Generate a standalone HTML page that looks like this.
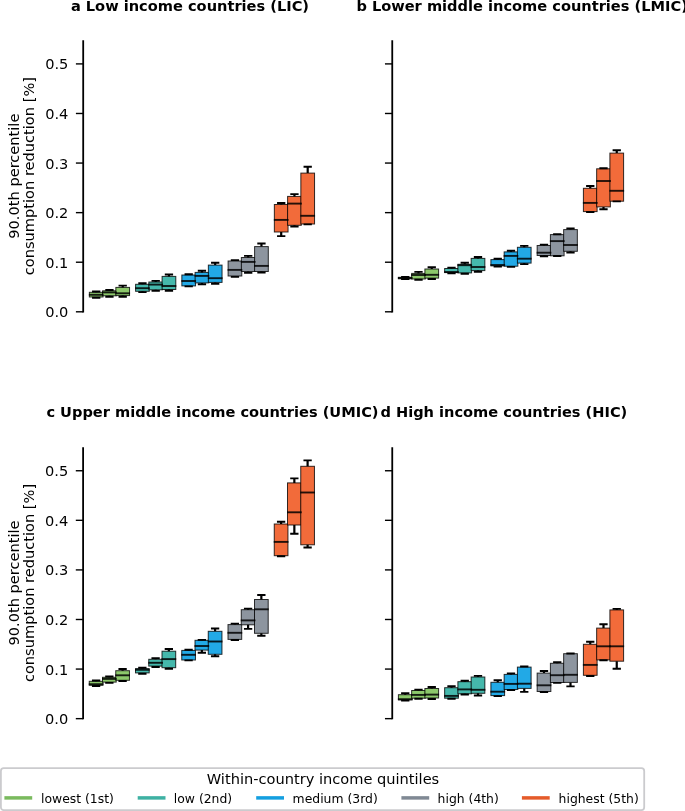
<!DOCTYPE html>
<html lang="en"><head><meta charset="utf-8"><title>Consumption reduction by income quintile</title>
<style>html,body{margin:0;padding:0;background:#fff}body{width:685px;height:811px;overflow:hidden}svg{display:block}text{font-family:"DejaVu Sans", "Liberation Sans", sans-serif;font-size:14.6px;fill:#000}.t{font-weight:bold}.lg{font-size:12.4px}</style></head><body>
<svg width="685" height="811" viewBox="0 0 685 811">
<rect x="0" y="0" width="685" height="811" fill="#ffffff"/>
<g>
<text class="t" x="70.9" y="10.6">a Low income countries (LIC)</text>
<rect x="89.35" y="292.3" width="13.7" height="4.7" fill="#8cc86b" stroke="#000000" stroke-opacity="0.8" stroke-width="1.0"/>
<rect x="102.6" y="290.8" width="13.7" height="5" fill="#8cc86b" stroke="#000000" stroke-opacity="0.8" stroke-width="1.0"/>
<rect x="115.85" y="287.4" width="13.7" height="8.2" fill="#8cc86b" stroke="#000000" stroke-opacity="0.8" stroke-width="1.0"/>
<rect x="135.6" y="284.3" width="13.7" height="7" fill="#45b8ac" stroke="#000000" stroke-opacity="0.8" stroke-width="1.0"/>
<rect x="148.85" y="282" width="13.7" height="7.8" fill="#45b8ac" stroke="#000000" stroke-opacity="0.8" stroke-width="1.0"/>
<rect x="162.1" y="276.4" width="13.7" height="13.1" fill="#45b8ac" stroke="#000000" stroke-opacity="0.8" stroke-width="1.0"/>
<rect x="181.85" y="275" width="13.7" height="10.9" fill="#22a9e6" stroke="#000000" stroke-opacity="0.8" stroke-width="1.0"/>
<rect x="195.1" y="272.4" width="13.7" height="10.5" fill="#22a9e6" stroke="#000000" stroke-opacity="0.8" stroke-width="1.0"/>
<rect x="208.35" y="265.1" width="13.7" height="17.3" fill="#22a9e6" stroke="#000000" stroke-opacity="0.8" stroke-width="1.0"/>
<rect x="228.1" y="261" width="13.7" height="15" fill="#8d959f" stroke="#000000" stroke-opacity="0.8" stroke-width="1.0"/>
<rect x="241.35" y="257.5" width="13.7" height="14" fill="#8d959f" stroke="#000000" stroke-opacity="0.8" stroke-width="1.0"/>
<rect x="254.6" y="246.6" width="13.7" height="24.9" fill="#8d959f" stroke="#000000" stroke-opacity="0.8" stroke-width="1.0"/>
<rect x="274.35" y="204.5" width="13.7" height="27.5" fill="#f26b3a" stroke="#000000" stroke-opacity="0.8" stroke-width="1.0"/>
<rect x="287.6" y="196.4" width="13.7" height="28.9" fill="#f26b3a" stroke="#000000" stroke-opacity="0.8" stroke-width="1.0"/>
<rect x="300.85" y="173.1" width="13.7" height="50.9" fill="#f26b3a" stroke="#000000" stroke-opacity="0.8" stroke-width="1.0"/>
<path d="M96.2 291.5V292.3M96.2 297V297.7" stroke="#000" stroke-width="2.2" fill="none"/>
<path d="M92.05 291.5H100.35M92.05 297.7H100.35" stroke="#000" stroke-width="1.9" fill="none"/>
<path d="M88.85 294.8H103.55" stroke="#000" stroke-opacity="0.85" stroke-width="1.9" fill="none"/>
<path d="M109.45 290V290.8M109.45 295.8V296.8" stroke="#000" stroke-width="2.2" fill="none"/>
<path d="M105.3 290H113.6M105.3 296.8H113.6" stroke="#000" stroke-width="1.9" fill="none"/>
<path d="M102.1 292.4H116.8" stroke="#000" stroke-opacity="0.85" stroke-width="1.9" fill="none"/>
<path d="M122.7 285.6V287.4M122.7 295.6V296.8" stroke="#000" stroke-width="2.2" fill="none"/>
<path d="M118.55 285.6H126.85M118.55 296.8H126.85" stroke="#000" stroke-width="1.9" fill="none"/>
<path d="M115.35 293.3H130.05" stroke="#000" stroke-opacity="0.85" stroke-width="1.9" fill="none"/>
<path d="M142.45 283.2V284.3M142.45 291.3V292.1" stroke="#000" stroke-width="2.2" fill="none"/>
<path d="M138.3 283.2H146.6M138.3 292.1H146.6" stroke="#000" stroke-width="1.9" fill="none"/>
<path d="M135.1 288.2H149.8" stroke="#000" stroke-opacity="0.85" stroke-width="1.9" fill="none"/>
<path d="M155.7 280.9V282M155.7 289.8V290.9" stroke="#000" stroke-width="2.2" fill="none"/>
<path d="M151.55 280.9H159.85M151.55 290.9H159.85" stroke="#000" stroke-width="1.9" fill="none"/>
<path d="M148.35 284.6H163.05" stroke="#000" stroke-opacity="0.85" stroke-width="1.9" fill="none"/>
<path d="M168.95 274.5V276.4M168.95 289.5V290.7" stroke="#000" stroke-width="2.2" fill="none"/>
<path d="M164.8 274.5H173.1M164.8 290.7H173.1" stroke="#000" stroke-width="1.9" fill="none"/>
<path d="M161.6 286H176.3" stroke="#000" stroke-opacity="0.85" stroke-width="1.9" fill="none"/>
<path d="M188.7 274.3V275M188.7 285.9V286.4" stroke="#000" stroke-width="2.2" fill="none"/>
<path d="M184.55 274.3H192.85M184.55 286.4H192.85" stroke="#000" stroke-width="1.9" fill="none"/>
<path d="M181.35 281H196.05" stroke="#000" stroke-opacity="0.85" stroke-width="1.9" fill="none"/>
<path d="M201.95 270.8V272.4M201.95 282.9V284.3" stroke="#000" stroke-width="2.2" fill="none"/>
<path d="M197.8 270.8H206.1M197.8 284.3H206.1" stroke="#000" stroke-width="1.9" fill="none"/>
<path d="M194.6 275.9H209.3" stroke="#000" stroke-opacity="0.85" stroke-width="1.9" fill="none"/>
<path d="M215.2 262.8V265.1M215.2 282.4V283.8" stroke="#000" stroke-width="2.2" fill="none"/>
<path d="M211.05 262.8H219.35M211.05 283.8H219.35" stroke="#000" stroke-width="1.9" fill="none"/>
<path d="M207.85 278.2H222.55" stroke="#000" stroke-opacity="0.85" stroke-width="1.9" fill="none"/>
<path d="M234.95 260.1V261M234.95 276V276.9" stroke="#000" stroke-width="2.2" fill="none"/>
<path d="M230.8 260.1H239.1M230.8 276.9H239.1" stroke="#000" stroke-width="1.9" fill="none"/>
<path d="M227.6 269.9H242.3" stroke="#000" stroke-opacity="0.85" stroke-width="1.9" fill="none"/>
<path d="M248.2 255.9V257.5M248.2 271.5V272.9" stroke="#000" stroke-width="2.2" fill="none"/>
<path d="M244.05 255.9H252.35M244.05 272.9H252.35" stroke="#000" stroke-width="1.9" fill="none"/>
<path d="M240.85 261.9H255.55" stroke="#000" stroke-opacity="0.85" stroke-width="1.9" fill="none"/>
<path d="M261.45 243.5V246.6M261.45 271.5V272.5" stroke="#000" stroke-width="2.2" fill="none"/>
<path d="M257.3 243.5H265.6M257.3 272.5H265.6" stroke="#000" stroke-width="1.9" fill="none"/>
<path d="M254.1 265.9H268.8" stroke="#000" stroke-opacity="0.85" stroke-width="1.9" fill="none"/>
<path d="M281.2 203V204.5M281.2 232V236.1" stroke="#000" stroke-width="2.2" fill="none"/>
<path d="M277.05 203H285.35M277.05 236.1H285.35" stroke="#000" stroke-width="1.9" fill="none"/>
<path d="M273.85 219.9H288.55" stroke="#000" stroke-opacity="0.85" stroke-width="1.9" fill="none"/>
<path d="M294.45 194.1V196.4M294.45 225.3V226.5" stroke="#000" stroke-width="2.2" fill="none"/>
<path d="M290.3 194.1H298.6M290.3 226.5H298.6" stroke="#000" stroke-width="1.9" fill="none"/>
<path d="M287.1 203.6H301.8" stroke="#000" stroke-opacity="0.85" stroke-width="1.9" fill="none"/>
<path d="M307.7 166.8V173.1M307.7 224V224.4" stroke="#000" stroke-width="2.2" fill="none"/>
<path d="M303.55 166.8H311.85M303.55 224.4H311.85" stroke="#000" stroke-width="1.9" fill="none"/>
<path d="M300.35 215.8H315.05" stroke="#000" stroke-opacity="0.85" stroke-width="1.9" fill="none"/>
<path d="M83.2 40.3V312.5" stroke="#000" stroke-width="1.8" fill="none"/>
<path d="M75.9 311.8H83.2" stroke="#000" stroke-width="1.4" fill="none"/>
<text x="68.4" y="317.25" text-anchor="end">0.0</text>
<path d="M75.9 262.22H83.2" stroke="#000" stroke-width="1.4" fill="none"/>
<text x="68.4" y="267.67" text-anchor="end">0.1</text>
<path d="M75.9 212.64H83.2" stroke="#000" stroke-width="1.4" fill="none"/>
<text x="68.4" y="218.09" text-anchor="end">0.2</text>
<path d="M75.9 163.06H83.2" stroke="#000" stroke-width="1.4" fill="none"/>
<text x="68.4" y="168.51" text-anchor="end">0.3</text>
<path d="M75.9 113.48H83.2" stroke="#000" stroke-width="1.4" fill="none"/>
<text x="68.4" y="118.93" text-anchor="end">0.4</text>
<path d="M75.9 63.9H83.2" stroke="#000" stroke-width="1.4" fill="none"/>
<text x="68.4" y="69.35" text-anchor="end">0.5</text>
<text transform="translate(18.8 176.15) rotate(-90)" text-anchor="middle">90.0th percentile</text>
<text transform="translate(33.7 176.15) rotate(-90)" text-anchor="middle">consumption reduction [%]</text>
</g>
<g>
<text class="t" x="356.4" y="10.6">b Lower middle income countries (LMIC)</text>
<rect x="398.4" y="277.3" width="13.7" height="1.5" fill="#8cc86b" stroke="#000000" stroke-opacity="0.8" stroke-width="1.0"/>
<rect x="411.65" y="273.4" width="13.7" height="5.6" fill="#8cc86b" stroke="#000000" stroke-opacity="0.8" stroke-width="1.0"/>
<rect x="424.9" y="269" width="13.7" height="9.1" fill="#8cc86b" stroke="#000000" stroke-opacity="0.8" stroke-width="1.0"/>
<rect x="444.65" y="268.5" width="13.7" height="4.1" fill="#45b8ac" stroke="#000000" stroke-opacity="0.8" stroke-width="1.0"/>
<rect x="457.9" y="264.3" width="13.7" height="8.6" fill="#45b8ac" stroke="#000000" stroke-opacity="0.8" stroke-width="1.0"/>
<rect x="471.15" y="258.4" width="13.7" height="12.2" fill="#45b8ac" stroke="#000000" stroke-opacity="0.8" stroke-width="1.0"/>
<rect x="490.9" y="259.6" width="13.7" height="6.3" fill="#22a9e6" stroke="#000000" stroke-opacity="0.8" stroke-width="1.0"/>
<rect x="504.15" y="251.9" width="13.7" height="14.3" fill="#22a9e6" stroke="#000000" stroke-opacity="0.8" stroke-width="1.0"/>
<rect x="517.4" y="247.3" width="13.7" height="15.8" fill="#22a9e6" stroke="#000000" stroke-opacity="0.8" stroke-width="1.0"/>
<rect x="537.15" y="245.5" width="13.7" height="10" fill="#8d959f" stroke="#000000" stroke-opacity="0.8" stroke-width="1.0"/>
<rect x="550.4" y="234.6" width="13.7" height="21.2" fill="#8d959f" stroke="#000000" stroke-opacity="0.8" stroke-width="1.0"/>
<rect x="563.65" y="229.6" width="13.7" height="21.7" fill="#8d959f" stroke="#000000" stroke-opacity="0.8" stroke-width="1.0"/>
<rect x="583.4" y="188.3" width="13.7" height="23.3" fill="#f26b3a" stroke="#000000" stroke-opacity="0.8" stroke-width="1.0"/>
<rect x="596.65" y="168.8" width="13.7" height="38.1" fill="#f26b3a" stroke="#000000" stroke-opacity="0.8" stroke-width="1.0"/>
<rect x="609.9" y="153.1" width="13.7" height="48.1" fill="#f26b3a" stroke="#000000" stroke-opacity="0.8" stroke-width="1.0"/>
<path d="M405.25 277V277.3M405.25 278.8V279.1" stroke="#000" stroke-width="2.2" fill="none"/>
<path d="M401.1 277H409.4M401.1 279.1H409.4" stroke="#000" stroke-width="1.9" fill="none"/>
<path d="M397.9 278H412.6" stroke="#000" stroke-opacity="0.85" stroke-width="1.9" fill="none"/>
<path d="M418.5 271.9V273.4M418.5 279V279.8" stroke="#000" stroke-width="2.2" fill="none"/>
<path d="M414.35 271.9H422.65M414.35 279.8H422.65" stroke="#000" stroke-width="1.9" fill="none"/>
<path d="M411.15 275H425.85" stroke="#000" stroke-opacity="0.85" stroke-width="1.9" fill="none"/>
<path d="M431.75 267.3V269M431.75 278.1V279" stroke="#000" stroke-width="2.2" fill="none"/>
<path d="M427.6 267.3H435.9M427.6 279H435.9" stroke="#000" stroke-width="1.9" fill="none"/>
<path d="M424.4 274.8H439.1" stroke="#000" stroke-opacity="0.85" stroke-width="1.9" fill="none"/>
<path d="M451.5 267.6V268.5M451.5 272.6V273.2" stroke="#000" stroke-width="2.2" fill="none"/>
<path d="M447.35 267.6H455.65M447.35 273.2H455.65" stroke="#000" stroke-width="1.9" fill="none"/>
<path d="M444.15 272H458.85" stroke="#000" stroke-opacity="0.85" stroke-width="1.9" fill="none"/>
<path d="M464.75 262.8V264.3M464.75 272.9V273.8" stroke="#000" stroke-width="2.2" fill="none"/>
<path d="M460.6 262.8H468.9M460.6 273.8H468.9" stroke="#000" stroke-width="1.9" fill="none"/>
<path d="M457.4 265.2H472.1" stroke="#000" stroke-opacity="0.85" stroke-width="1.9" fill="none"/>
<path d="M478 257V258.4M478 270.6V271.7" stroke="#000" stroke-width="2.2" fill="none"/>
<path d="M473.85 257H482.15M473.85 271.7H482.15" stroke="#000" stroke-width="1.9" fill="none"/>
<path d="M470.65 267H485.35" stroke="#000" stroke-opacity="0.85" stroke-width="1.9" fill="none"/>
<path d="M497.75 258.7V259.6M497.75 265.9V266.6" stroke="#000" stroke-width="2.2" fill="none"/>
<path d="M493.6 258.7H501.9M493.6 266.6H501.9" stroke="#000" stroke-width="1.9" fill="none"/>
<path d="M490.4 265H505.1" stroke="#000" stroke-opacity="0.85" stroke-width="1.9" fill="none"/>
<path d="M511 250.8V251.9M511 266.2V266.9" stroke="#000" stroke-width="2.2" fill="none"/>
<path d="M506.85 250.8H515.15M506.85 266.9H515.15" stroke="#000" stroke-width="1.9" fill="none"/>
<path d="M503.65 255.9H518.35" stroke="#000" stroke-opacity="0.85" stroke-width="1.9" fill="none"/>
<path d="M524.25 245.9V247.3M524.25 263.1V264.1" stroke="#000" stroke-width="2.2" fill="none"/>
<path d="M520.1 245.9H528.4M520.1 264.1H528.4" stroke="#000" stroke-width="1.9" fill="none"/>
<path d="M516.9 258.7H531.6" stroke="#000" stroke-opacity="0.85" stroke-width="1.9" fill="none"/>
<path d="M544 244.6V245.5M544 255.5V256.2" stroke="#000" stroke-width="2.2" fill="none"/>
<path d="M539.85 244.6H548.15M539.85 256.2H548.15" stroke="#000" stroke-width="1.9" fill="none"/>
<path d="M536.65 252.7H551.35" stroke="#000" stroke-opacity="0.85" stroke-width="1.9" fill="none"/>
<path d="M557.25 234.3V234.6M557.25 255.8V256" stroke="#000" stroke-width="2.2" fill="none"/>
<path d="M553.1 234.3H561.4M553.1 256H561.4" stroke="#000" stroke-width="1.9" fill="none"/>
<path d="M549.9 241.1H564.6" stroke="#000" stroke-opacity="0.85" stroke-width="1.9" fill="none"/>
<path d="M570.5 228.5V229.6M570.5 251.3V252.5" stroke="#000" stroke-width="2.2" fill="none"/>
<path d="M566.35 228.5H574.65M566.35 252.5H574.65" stroke="#000" stroke-width="1.9" fill="none"/>
<path d="M563.15 245H577.85" stroke="#000" stroke-opacity="0.85" stroke-width="1.9" fill="none"/>
<path d="M590.25 186V188.3M590.25 211.6V212" stroke="#000" stroke-width="2.2" fill="none"/>
<path d="M586.1 186H594.4M586.1 212H594.4" stroke="#000" stroke-width="1.9" fill="none"/>
<path d="M582.9 202.9H597.6" stroke="#000" stroke-opacity="0.85" stroke-width="1.9" fill="none"/>
<path d="M603.5 168.3V168.8M603.5 206.9V209.3" stroke="#000" stroke-width="2.2" fill="none"/>
<path d="M599.35 168.3H607.65M599.35 209.3H607.65" stroke="#000" stroke-width="1.9" fill="none"/>
<path d="M596.15 181H610.85" stroke="#000" stroke-opacity="0.85" stroke-width="1.9" fill="none"/>
<path d="M616.75 150.3V153.1M616.75 201.2V201.4" stroke="#000" stroke-width="2.2" fill="none"/>
<path d="M612.6 150.3H620.9M612.6 201.4H620.9" stroke="#000" stroke-width="1.9" fill="none"/>
<path d="M609.4 190.8H624.1" stroke="#000" stroke-opacity="0.85" stroke-width="1.9" fill="none"/>
<path d="M392.25 40.3V312.5" stroke="#000" stroke-width="1.8" fill="none"/>
<path d="M384.95 311.8H392.25" stroke="#000" stroke-width="1.4" fill="none"/>
<path d="M384.95 262.22H392.25" stroke="#000" stroke-width="1.4" fill="none"/>
<path d="M384.95 212.64H392.25" stroke="#000" stroke-width="1.4" fill="none"/>
<path d="M384.95 163.06H392.25" stroke="#000" stroke-width="1.4" fill="none"/>
<path d="M384.95 113.48H392.25" stroke="#000" stroke-width="1.4" fill="none"/>
<path d="M384.95 63.9H392.25" stroke="#000" stroke-width="1.4" fill="none"/>
</g>
<g>
<text class="t" x="46.4" y="417.4">c Upper middle income countries (UMIC)</text>
<rect x="89.25" y="681.3" width="13.7" height="4" fill="#8cc86b" stroke="#000000" stroke-opacity="0.8" stroke-width="1.0"/>
<rect x="102.5" y="677.3" width="13.7" height="4.8" fill="#8cc86b" stroke="#000000" stroke-opacity="0.8" stroke-width="1.0"/>
<rect x="115.75" y="670.7" width="13.7" height="9.6" fill="#8cc86b" stroke="#000000" stroke-opacity="0.8" stroke-width="1.0"/>
<rect x="135.5" y="668.6" width="13.7" height="4.3" fill="#45b8ac" stroke="#000000" stroke-opacity="0.8" stroke-width="1.0"/>
<rect x="148.75" y="659.3" width="13.7" height="6.8" fill="#45b8ac" stroke="#000000" stroke-opacity="0.8" stroke-width="1.0"/>
<rect x="162" y="651.2" width="13.7" height="16.5" fill="#45b8ac" stroke="#000000" stroke-opacity="0.8" stroke-width="1.0"/>
<rect x="181.75" y="650.4" width="13.7" height="9.6" fill="#22a9e6" stroke="#000000" stroke-opacity="0.8" stroke-width="1.0"/>
<rect x="195" y="640.3" width="13.7" height="9.8" fill="#22a9e6" stroke="#000000" stroke-opacity="0.8" stroke-width="1.0"/>
<rect x="208.25" y="631.3" width="13.7" height="23" fill="#22a9e6" stroke="#000000" stroke-opacity="0.8" stroke-width="1.0"/>
<rect x="228" y="624.6" width="13.7" height="14.8" fill="#8d959f" stroke="#000000" stroke-opacity="0.8" stroke-width="1.0"/>
<rect x="241.25" y="609.7" width="13.7" height="15.1" fill="#8d959f" stroke="#000000" stroke-opacity="0.8" stroke-width="1.0"/>
<rect x="254.5" y="599.5" width="13.7" height="33.8" fill="#8d959f" stroke="#000000" stroke-opacity="0.8" stroke-width="1.0"/>
<rect x="274.25" y="524" width="13.7" height="31.7" fill="#f26b3a" stroke="#000000" stroke-opacity="0.8" stroke-width="1.0"/>
<rect x="287.5" y="482.9" width="13.7" height="42.1" fill="#f26b3a" stroke="#000000" stroke-opacity="0.8" stroke-width="1.0"/>
<rect x="300.75" y="466.3" width="13.7" height="78.5" fill="#f26b3a" stroke="#000000" stroke-opacity="0.8" stroke-width="1.0"/>
<path d="M96.1 680.5V681.3M96.1 685.3V686" stroke="#000" stroke-width="2.2" fill="none"/>
<path d="M91.95 680.5H100.25M91.95 686H100.25" stroke="#000" stroke-width="1.9" fill="none"/>
<path d="M88.75 684.2H103.45" stroke="#000" stroke-opacity="0.85" stroke-width="1.9" fill="none"/>
<path d="M109.35 676.5V677.3M109.35 682.1V682.9" stroke="#000" stroke-width="2.2" fill="none"/>
<path d="M105.2 676.5H113.5M105.2 682.9H113.5" stroke="#000" stroke-width="1.9" fill="none"/>
<path d="M102 678.9H116.7" stroke="#000" stroke-opacity="0.85" stroke-width="1.9" fill="none"/>
<path d="M122.6 669V670.7M122.6 680.3V681" stroke="#000" stroke-width="2.2" fill="none"/>
<path d="M118.45 669H126.75M118.45 681H126.75" stroke="#000" stroke-width="1.9" fill="none"/>
<path d="M115.25 675.3H129.95" stroke="#000" stroke-opacity="0.85" stroke-width="1.9" fill="none"/>
<path d="M142.35 667.7V668.6M142.35 672.9V673.8" stroke="#000" stroke-width="2.2" fill="none"/>
<path d="M138.2 667.7H146.5M138.2 673.8H146.5" stroke="#000" stroke-width="1.9" fill="none"/>
<path d="M135 669.8H149.7" stroke="#000" stroke-opacity="0.85" stroke-width="1.9" fill="none"/>
<path d="M155.6 658.1V659.3M155.6 666.1V667" stroke="#000" stroke-width="2.2" fill="none"/>
<path d="M151.45 658.1H159.75M151.45 667H159.75" stroke="#000" stroke-width="1.9" fill="none"/>
<path d="M148.25 662.8H162.95" stroke="#000" stroke-opacity="0.85" stroke-width="1.9" fill="none"/>
<path d="M168.85 649V651.2M168.85 667.7V668.7" stroke="#000" stroke-width="2.2" fill="none"/>
<path d="M164.7 649H173M164.7 668.7H173" stroke="#000" stroke-width="1.9" fill="none"/>
<path d="M161.5 659.1H176.2" stroke="#000" stroke-opacity="0.85" stroke-width="1.9" fill="none"/>
<path d="M188.6 649.7V650.4M188.6 660V660.4" stroke="#000" stroke-width="2.2" fill="none"/>
<path d="M184.45 649.7H192.75M184.45 660.4H192.75" stroke="#000" stroke-width="1.9" fill="none"/>
<path d="M181.25 654.8H195.95" stroke="#000" stroke-opacity="0.85" stroke-width="1.9" fill="none"/>
<path d="M201.85 639.9V640.3M201.85 650.1V652.7" stroke="#000" stroke-width="2.2" fill="none"/>
<path d="M197.7 639.9H206M197.7 652.7H206" stroke="#000" stroke-width="1.9" fill="none"/>
<path d="M194.5 646H209.2" stroke="#000" stroke-opacity="0.85" stroke-width="1.9" fill="none"/>
<path d="M215.1 628.5V631.3M215.1 654.3V656.2" stroke="#000" stroke-width="2.2" fill="none"/>
<path d="M210.95 628.5H219.25M210.95 656.2H219.25" stroke="#000" stroke-width="1.9" fill="none"/>
<path d="M207.75 641.5H222.45" stroke="#000" stroke-opacity="0.85" stroke-width="1.9" fill="none"/>
<path d="M234.85 623.6V624.6M234.85 639.4V640" stroke="#000" stroke-width="2.2" fill="none"/>
<path d="M230.7 623.6H239M230.7 640H239" stroke="#000" stroke-width="1.9" fill="none"/>
<path d="M227.5 632.8H242.2" stroke="#000" stroke-opacity="0.85" stroke-width="1.9" fill="none"/>
<path d="M248.1 608.6V609.7M248.1 624.8V628.9" stroke="#000" stroke-width="2.2" fill="none"/>
<path d="M243.95 608.6H252.25M243.95 628.9H252.25" stroke="#000" stroke-width="1.9" fill="none"/>
<path d="M240.75 620.4H255.45" stroke="#000" stroke-opacity="0.85" stroke-width="1.9" fill="none"/>
<path d="M261.35 595V599.5M261.35 633.3V635.7" stroke="#000" stroke-width="2.2" fill="none"/>
<path d="M257.2 595H265.5M257.2 635.7H265.5" stroke="#000" stroke-width="1.9" fill="none"/>
<path d="M254 609.3H268.7" stroke="#000" stroke-opacity="0.85" stroke-width="1.9" fill="none"/>
<path d="M281.1 521.8V524M281.1 555.7V556.2" stroke="#000" stroke-width="2.2" fill="none"/>
<path d="M276.95 521.8H285.25M276.95 556.2H285.25" stroke="#000" stroke-width="1.9" fill="none"/>
<path d="M273.75 541.9H288.45" stroke="#000" stroke-opacity="0.85" stroke-width="1.9" fill="none"/>
<path d="M294.35 478.4V482.9M294.35 525V533.7" stroke="#000" stroke-width="2.2" fill="none"/>
<path d="M290.2 478.4H298.5M290.2 533.7H298.5" stroke="#000" stroke-width="1.9" fill="none"/>
<path d="M287 512.3H301.7" stroke="#000" stroke-opacity="0.85" stroke-width="1.9" fill="none"/>
<path d="M307.6 460.4V466.3M307.6 544.8V547.5" stroke="#000" stroke-width="2.2" fill="none"/>
<path d="M303.45 460.4H311.75M303.45 547.5H311.75" stroke="#000" stroke-width="1.9" fill="none"/>
<path d="M300.25 492.5H314.95" stroke="#000" stroke-opacity="0.85" stroke-width="1.9" fill="none"/>
<path d="M83.1 447.15V719.35" stroke="#000" stroke-width="1.8" fill="none"/>
<path d="M75.8 718.65H83.1" stroke="#000" stroke-width="1.4" fill="none"/>
<text x="68.3" y="724.1" text-anchor="end">0.0</text>
<path d="M75.8 669.07H83.1" stroke="#000" stroke-width="1.4" fill="none"/>
<text x="68.3" y="674.52" text-anchor="end">0.1</text>
<path d="M75.8 619.49H83.1" stroke="#000" stroke-width="1.4" fill="none"/>
<text x="68.3" y="624.94" text-anchor="end">0.2</text>
<path d="M75.8 569.91H83.1" stroke="#000" stroke-width="1.4" fill="none"/>
<text x="68.3" y="575.36" text-anchor="end">0.3</text>
<path d="M75.8 520.33H83.1" stroke="#000" stroke-width="1.4" fill="none"/>
<text x="68.3" y="525.78" text-anchor="end">0.4</text>
<path d="M75.8 470.75H83.1" stroke="#000" stroke-width="1.4" fill="none"/>
<text x="68.3" y="476.2" text-anchor="end">0.5</text>
<text transform="translate(18.8 583) rotate(-90)" text-anchor="middle">90.0th percentile</text>
<text transform="translate(33.7 583) rotate(-90)" text-anchor="middle">consumption reduction [%]</text>
</g>
<g>
<text class="t" x="380.4" y="417.4">d High income countries (HIC)</text>
<rect x="398.4" y="694.7" width="13.7" height="5.2" fill="#8cc86b" stroke="#000000" stroke-opacity="0.8" stroke-width="1.0"/>
<rect x="411.65" y="690.5" width="13.7" height="7.7" fill="#8cc86b" stroke="#000000" stroke-opacity="0.8" stroke-width="1.0"/>
<rect x="424.9" y="688.5" width="13.7" height="9.5" fill="#8cc86b" stroke="#000000" stroke-opacity="0.8" stroke-width="1.0"/>
<rect x="444.65" y="687.7" width="13.7" height="10.5" fill="#45b8ac" stroke="#000000" stroke-opacity="0.8" stroke-width="1.0"/>
<rect x="457.9" y="681.7" width="13.7" height="12.1" fill="#45b8ac" stroke="#000000" stroke-opacity="0.8" stroke-width="1.0"/>
<rect x="471.15" y="677" width="13.7" height="16.3" fill="#45b8ac" stroke="#000000" stroke-opacity="0.8" stroke-width="1.0"/>
<rect x="490.9" y="682.3" width="13.7" height="13.3" fill="#22a9e6" stroke="#000000" stroke-opacity="0.8" stroke-width="1.0"/>
<rect x="504.15" y="674.4" width="13.7" height="15.1" fill="#22a9e6" stroke="#000000" stroke-opacity="0.8" stroke-width="1.0"/>
<rect x="517.4" y="667.1" width="13.7" height="21.3" fill="#22a9e6" stroke="#000000" stroke-opacity="0.8" stroke-width="1.0"/>
<rect x="537.15" y="673.1" width="13.7" height="18.4" fill="#8d959f" stroke="#000000" stroke-opacity="0.8" stroke-width="1.0"/>
<rect x="550.4" y="663.3" width="13.7" height="19.2" fill="#8d959f" stroke="#000000" stroke-opacity="0.8" stroke-width="1.0"/>
<rect x="563.65" y="653.7" width="13.7" height="28.7" fill="#8d959f" stroke="#000000" stroke-opacity="0.8" stroke-width="1.0"/>
<rect x="583.4" y="644.3" width="13.7" height="31" fill="#f26b3a" stroke="#000000" stroke-opacity="0.8" stroke-width="1.0"/>
<rect x="596.65" y="628.1" width="13.7" height="31.8" fill="#f26b3a" stroke="#000000" stroke-opacity="0.8" stroke-width="1.0"/>
<rect x="609.9" y="609.9" width="13.7" height="51.3" fill="#f26b3a" stroke="#000000" stroke-opacity="0.8" stroke-width="1.0"/>
<path d="M405.25 693.3V694.7M405.25 699.9V700.6" stroke="#000" stroke-width="2.2" fill="none"/>
<path d="M401.1 693.3H409.4M401.1 700.6H409.4" stroke="#000" stroke-width="1.9" fill="none"/>
<path d="M397.9 699.2H412.6" stroke="#000" stroke-opacity="0.85" stroke-width="1.9" fill="none"/>
<path d="M418.5 689.6V690.5M418.5 698.2V698.8" stroke="#000" stroke-width="2.2" fill="none"/>
<path d="M414.35 689.6H422.65M414.35 698.8H422.65" stroke="#000" stroke-width="1.9" fill="none"/>
<path d="M411.15 694.9H425.85" stroke="#000" stroke-opacity="0.85" stroke-width="1.9" fill="none"/>
<path d="M431.75 687V688.5M431.75 698V699" stroke="#000" stroke-width="2.2" fill="none"/>
<path d="M427.6 687H435.9M427.6 699H435.9" stroke="#000" stroke-width="1.9" fill="none"/>
<path d="M424.4 694.6H439.1" stroke="#000" stroke-opacity="0.85" stroke-width="1.9" fill="none"/>
<path d="M451.5 686.3V687.7M451.5 698.2V698.7" stroke="#000" stroke-width="2.2" fill="none"/>
<path d="M447.35 686.3H455.65M447.35 698.7H455.65" stroke="#000" stroke-width="1.9" fill="none"/>
<path d="M444.15 695.9H458.85" stroke="#000" stroke-opacity="0.85" stroke-width="1.9" fill="none"/>
<path d="M464.75 680.8V681.7M464.75 693.8V694.5" stroke="#000" stroke-width="2.2" fill="none"/>
<path d="M460.6 680.8H468.9M460.6 694.5H468.9" stroke="#000" stroke-width="1.9" fill="none"/>
<path d="M457.4 689.4H472.1" stroke="#000" stroke-opacity="0.85" stroke-width="1.9" fill="none"/>
<path d="M478 675.9V677M478 693.3V695.5" stroke="#000" stroke-width="2.2" fill="none"/>
<path d="M473.85 675.9H482.15M473.85 695.5H482.15" stroke="#000" stroke-width="1.9" fill="none"/>
<path d="M470.65 689.8H485.35" stroke="#000" stroke-opacity="0.85" stroke-width="1.9" fill="none"/>
<path d="M497.75 680.2V682.3M497.75 695.6V696.1" stroke="#000" stroke-width="2.2" fill="none"/>
<path d="M493.6 680.2H501.9M493.6 696.1H501.9" stroke="#000" stroke-width="1.9" fill="none"/>
<path d="M490.4 691.7H505.1" stroke="#000" stroke-opacity="0.85" stroke-width="1.9" fill="none"/>
<path d="M511 673.4V674.4M511 689.5V690" stroke="#000" stroke-width="2.2" fill="none"/>
<path d="M506.85 673.4H515.15M506.85 690H515.15" stroke="#000" stroke-width="1.9" fill="none"/>
<path d="M503.65 683.9H518.35" stroke="#000" stroke-opacity="0.85" stroke-width="1.9" fill="none"/>
<path d="M524.25 666.5V667.1M524.25 688.4V691.9" stroke="#000" stroke-width="2.2" fill="none"/>
<path d="M520.1 666.5H528.4M520.1 691.9H528.4" stroke="#000" stroke-width="1.9" fill="none"/>
<path d="M516.9 683.7H531.6" stroke="#000" stroke-opacity="0.85" stroke-width="1.9" fill="none"/>
<path d="M544 671V673.1M544 691.5V692" stroke="#000" stroke-width="2.2" fill="none"/>
<path d="M539.85 671H548.15M539.85 692H548.15" stroke="#000" stroke-width="1.9" fill="none"/>
<path d="M536.65 685.3H551.35" stroke="#000" stroke-opacity="0.85" stroke-width="1.9" fill="none"/>
<path d="M557.25 662.1V663.3M557.25 682.5V682.9" stroke="#000" stroke-width="2.2" fill="none"/>
<path d="M553.1 662.1H561.4M553.1 682.9H561.4" stroke="#000" stroke-width="1.9" fill="none"/>
<path d="M549.9 675.2H564.6" stroke="#000" stroke-opacity="0.85" stroke-width="1.9" fill="none"/>
<path d="M570.5 653.5V653.7M570.5 682.4V686.4" stroke="#000" stroke-width="2.2" fill="none"/>
<path d="M566.35 653.5H574.65M566.35 686.4H574.65" stroke="#000" stroke-width="1.9" fill="none"/>
<path d="M563.15 674.8H577.85" stroke="#000" stroke-opacity="0.85" stroke-width="1.9" fill="none"/>
<path d="M590.25 641.7V644.3M590.25 675.3V676" stroke="#000" stroke-width="2.2" fill="none"/>
<path d="M586.1 641.7H594.4M586.1 676H594.4" stroke="#000" stroke-width="1.9" fill="none"/>
<path d="M582.9 664.9H597.6" stroke="#000" stroke-opacity="0.85" stroke-width="1.9" fill="none"/>
<path d="M603.5 624.3V628.1M603.5 659.9V660.2" stroke="#000" stroke-width="2.2" fill="none"/>
<path d="M599.35 624.3H607.65M599.35 660.2H607.65" stroke="#000" stroke-width="1.9" fill="none"/>
<path d="M596.15 646.3H610.85" stroke="#000" stroke-opacity="0.85" stroke-width="1.9" fill="none"/>
<path d="M616.75 608.9V609.9M616.75 661.2V668.8" stroke="#000" stroke-width="2.2" fill="none"/>
<path d="M612.6 608.9H620.9M612.6 668.8H620.9" stroke="#000" stroke-width="1.9" fill="none"/>
<path d="M609.4 646.3H624.1" stroke="#000" stroke-opacity="0.85" stroke-width="1.9" fill="none"/>
<path d="M392.25 447.15V719.35" stroke="#000" stroke-width="1.8" fill="none"/>
<path d="M384.95 718.65H392.25" stroke="#000" stroke-width="1.4" fill="none"/>
<path d="M384.95 669.07H392.25" stroke="#000" stroke-width="1.4" fill="none"/>
<path d="M384.95 619.49H392.25" stroke="#000" stroke-width="1.4" fill="none"/>
<path d="M384.95 569.91H392.25" stroke="#000" stroke-width="1.4" fill="none"/>
<path d="M384.95 520.33H392.25" stroke="#000" stroke-width="1.4" fill="none"/>
<path d="M384.95 470.75H392.25" stroke="#000" stroke-width="1.4" fill="none"/>
</g>
<g>
<rect x="0.9" y="768.2" width="643.3" height="41.9" rx="2.8" ry="2.8" fill="#fff" stroke="#cbcbce" stroke-width="1.8"/>
<text x="323" y="783.7" text-anchor="middle">Within-country income quintiles</text>
<path d="M4.4 797.9H32.2" stroke="#7aba5e" stroke-width="3.5" fill="none"/>
<text class="lg" x="41" y="802.6">lowest (1st)</text>
<path d="M137.7 797.9H165.5" stroke="#3eb1a3" stroke-width="3.5" fill="none"/>
<text class="lg" x="173.8" y="802.6">low (2nd)</text>
<path d="M256.2 797.9H284" stroke="#149fe0" stroke-width="3.5" fill="none"/>
<text class="lg" x="292.6" y="802.6">medium (3rd)</text>
<path d="M401.4 797.9H429.2" stroke="#808994" stroke-width="3.5" fill="none"/>
<text class="lg" x="437.6" y="802.6">high (4th)</text>
<path d="M521.9 797.9H549.7" stroke="#e55b2a" stroke-width="3.5" fill="none"/>
<text class="lg" x="558.6" y="802.6">highest (5th)</text>
</g>
</svg></body></html>
